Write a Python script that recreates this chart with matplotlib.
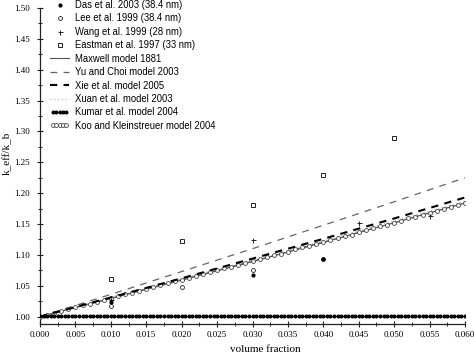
import matplotlib
matplotlib.use('Agg')
import matplotlib.pyplot as plt
import numpy as np
from matplotlib.ticker import MultipleLocator, FormatStrFormatter
from matplotlib.legend_handler import HandlerLine2D

# ---------------- data ----------------
das_phi = [0.01, 0.03, 0.04]
das_k = [1.023, 1.068, 1.094]

lee_phi = [0.01, 0.02, 0.03, 0.04]
lee_k = [1.017, 1.048, 1.075, 1.094]

wang_phi = [0.01, 0.03, 0.045, 0.055]
wang_k = [1.027, 1.124, 1.152, 1.163]

eastman_phi = [0.01, 0.02, 0.03, 0.04, 0.05]
eastman_k = [1.061, 1.122, 1.181, 1.230, 1.289]

model_phi = [0.00, 0.01, 0.02, 0.03, 0.04, 0.05, 0.06]
maxwell_k = [1.000, 1.029, 1.059, 1.089, 1.120, 1.152, 1.184]
yu_choi_k = [1.000, 1.036, 1.073, 1.110, 1.148, 1.186, 1.225]
xie_k = [1.000, 1.031, 1.062, 1.094, 1.126, 1.159, 1.193]
xuan_k = [1.000, 1.030, 1.061, 1.091, 1.123, 1.155, 1.187]

kumar_phi = np.arange(121) * 0.0005
kumar_k = [1.001] * 121

koo_phi = np.arange(61) * 0.001
koo_k = [1.000, 1.003, 1.006, 1.009, 1.012, 1.015, 1.018, 1.021, 1.024, 1.027,
         1.030, 1.033, 1.036, 1.039, 1.042, 1.045, 1.048, 1.051, 1.054, 1.057,
         1.060, 1.063, 1.066, 1.069, 1.072, 1.075, 1.078, 1.081, 1.084, 1.087,
         1.090, 1.093, 1.096, 1.099, 1.102, 1.105, 1.109, 1.112, 1.115, 1.118,
         1.121, 1.124, 1.127, 1.130, 1.133, 1.137, 1.140, 1.143, 1.146, 1.149,
         1.152, 1.155, 1.159, 1.162, 1.165, 1.168, 1.171, 1.175, 1.178, 1.181,
         1.184]

labels = ['Das et al. 2003 (38.4 nm)', 'Lee et al. 1999 (38.4 nm)',
          'Wang et al. 1999 (28 nm)', 'Eastman et al. 1997 (33 nm)',
          'Maxwell model 1881', 'Yu and Choi model 2003', 'Xie et al. model 2005',
          'Xuan et al. model 2003', 'Kumar et al. model 2004',
          'Koo and Kleinstreuer model 2004']

# ---------------- figure ----------------
fig = plt.figure(figsize=(4.74, 3.55), dpi=100)
ax = fig.add_axes([40 / 474, 31 / 355, 425 / 474, 316 / 355])

serif = ['Liberation Serif', 'DejaVu Serif']
sans = ['Liberation Sans', 'DejaVu Sans']

h_das, = ax.plot(das_phi, das_k, ls='none', marker='o', ms=2.0, color='black', zorder=6)
h_lee, = ax.plot(lee_phi, lee_k, ls='none', marker='o', ms=2.8, mfc='white',
                 mec='#222222', mew=0.6, zorder=5)
h_wang, = ax.plot(wang_phi, wang_k, ls='none', marker='+', ms=3.6, color='#222222',
                  mew=0.7, zorder=5)
h_east, = ax.plot(eastman_phi, eastman_k, ls='none', marker='s', ms=2.9, mfc='white',
                  mec='#222222', mew=0.7, zorder=5)

h_max, = ax.plot(model_phi, maxwell_k, color='#555555', lw=0.8, zorder=2)
h_yu, = ax.plot(model_phi, yu_choi_k, color='#666666', lw=0.9, ls=(0, (5.5, 5.0)), zorder=2)
h_xuan, = ax.plot(model_phi, xuan_k, color='#bbbbbb', lw=0.9, ls=(0, (1, 2)), zorder=2)
h_koo, = ax.plot(koo_phi, koo_k, color='#555555', lw=0.6, marker='o', ms=2.8,
                 mfc='white', mec='#444444', mew=0.6, zorder=3)
h_xie, = ax.plot(model_phi, xie_k, color='black', lw=1.5, ls=(0, (3.5, 3.0)), zorder=4)
h_kum, = ax.plot(kumar_phi, kumar_k, color='black', lw=0.6, marker='o', ms=1.9,
                 mfc='black', mec='black', zorder=4)

ax.set_xlim(0, 0.06)

ax.xaxis.set_major_locator(MultipleLocator(0.005))
ax.xaxis.set_minor_locator(MultipleLocator(0.0025))
ax.yaxis.set_minor_locator(MultipleLocator(0.025))
ax.xaxis.set_major_formatter(FormatStrFormatter('%.3f'))
ax.yaxis.set_major_formatter(FormatStrFormatter('%.2f'))

ax.set_yticks([1.0 + 0.05 * i for i in range(11)])
ax.set_ylim(0.988, 1.50)

for s in ['top', 'right']:
    ax.spines[s].set_visible(False)
for s in ['left', 'bottom']:
    ax.spines[s].set_linewidth(0.9)
    ax.spines[s].set_color('#222222')

ax.tick_params(axis='both', which='major', direction='inout', length=5, width=0.8,
               color='#222222', labelsize=6.5)
ax.tick_params(axis='both', which='minor', direction='inout', length=3, width=0.7,
               color='#222222')
ax.tick_params(axis='x', which='major', pad=2.5)
ax.tick_params(axis='y', which='major', pad=5)
for lab in ax.get_xticklabels() + ax.get_yticklabels():
    lab.set_family(serif)

ax.set_xlabel('volume fraction', family=serif, fontsize=8)
ax.xaxis.set_label_coords(0.531, -0.066)
ax.set_ylabel('k_eff/k_b', family=serif, fontsize=8)
ax.yaxis.set_label_coords(-0.067, 0.541)

handles = [h_das, h_lee, h_wang, h_east, h_max, h_yu, h_xie, h_xuan, h_kum, h_koo]
leg = fig.legend(handles, labels, loc='upper left', bbox_to_anchor=(50 / 474, 1.0),
                 frameon=False, numpoints=1, labelspacing=0.36,
                 handlelength=2.0, handletextpad=0.6, borderpad=0.0, borderaxespad=0.0,
                 prop={'family': sans, 'size': 6.85},
                 handler_map={h_kum: HandlerLine2D(numpoints=5),
                              h_koo: HandlerLine2D(numpoints=5)})

fig.savefig('out.png', dpi=100)
